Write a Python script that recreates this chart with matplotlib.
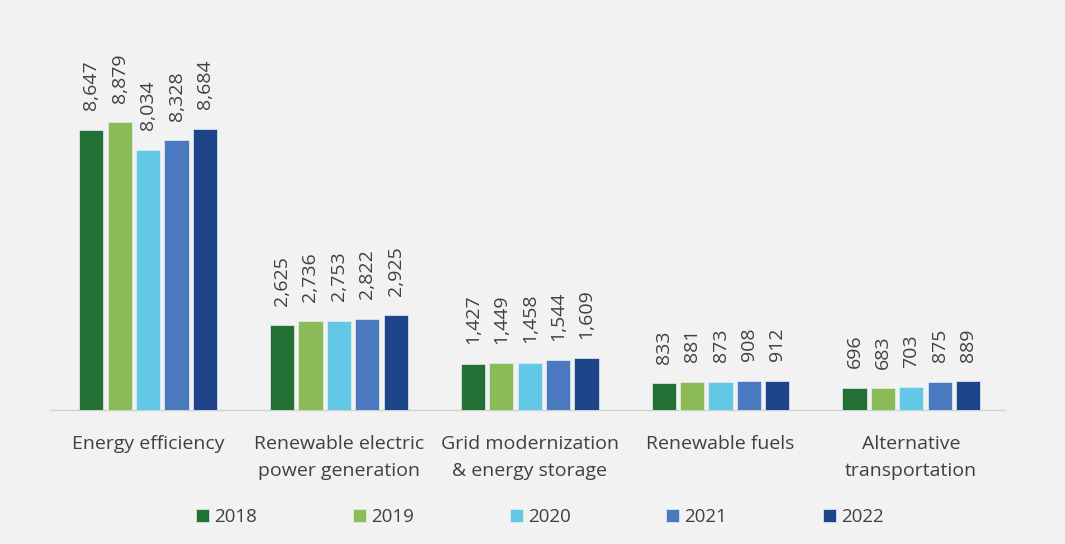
import matplotlib
matplotlib.use("Agg")
import matplotlib.pyplot as plt
import numpy as np

categories = ["Energy efficiency", "Renewable electric\npower generation",
              "Grid modernization\n& energy storage", "Renewable fuels",
              "Alternative\ntransportation"]
years = ["2018", "2019", "2020", "2021", "2022"]
values = {
    "2018": [8647, 2625, 1427, 833, 696],
    "2019": [8879, 2736, 1449, 881, 683],
    "2020": [8034, 2753, 1458, 873, 703],
    "2021": [8328, 2822, 1544, 908, 875],
    "2022": [8684, 2925, 1609, 912, 889],
}
colors = ["#237035", "#8bbb56", "#62c8e6", "#4a79c0", "#1e448a"]

plt.rcParams['font.family'] = ['Open Sans', 'DejaVu Sans']
bg = "#f2f2f2"
fig = plt.figure(figsize=(10.65, 5.44), dpi=100, facecolor=bg)
ax = fig.add_axes([0.047, 0.246, 0.897, 0.717], facecolor=bg)

x = np.arange(len(categories))
step = 0.149
width = 0.127
for i, y in enumerate(years):
    pos = x + (i - 2) * step
    bars = ax.bar(pos, values[y], width, color=colors[i], edgecolor="#e8eef0",
                  linewidth=0.5, label=y, zorder=3)
    for b, v in zip(bars, values[y]):
        ax.annotate(f"{v:,}", (b.get_x() + b.get_width() / 2, v),
                    xytext=(0, 14), textcoords="offset points",
                    rotation=90, ha="center", va="bottom",
                    fontsize=14, color="#404040")

ax.set_xlim(-0.514, 4.493)
ax.set_ylim(0, 12030)
ax.set_yticks([])
ax.set_xticks(x)
ax.set_xticklabels(categories, fontsize=14, color="#404040", linespacing=1.6)
ax.tick_params(axis="x", length=0, pad=18)
for s in ["top", "right", "left"]:
    ax.spines[s].set_visible(False)
ax.spines["bottom"].set_color("#d0d0d0")
ax.spines["bottom"].set_linewidth(1)

leg = fig.legend(loc="center", bbox_to_anchor=(0.507, 0.049), ncol=5,
                 frameon=False, fontsize=13.5, handlelength=0.7,
                 handleheight=0.7, handletextpad=0.27, columnspacing=5.1)
for t in leg.get_texts():
    t.set_color("#404040")

fig.savefig("out.png", dpi=100, facecolor=bg)
